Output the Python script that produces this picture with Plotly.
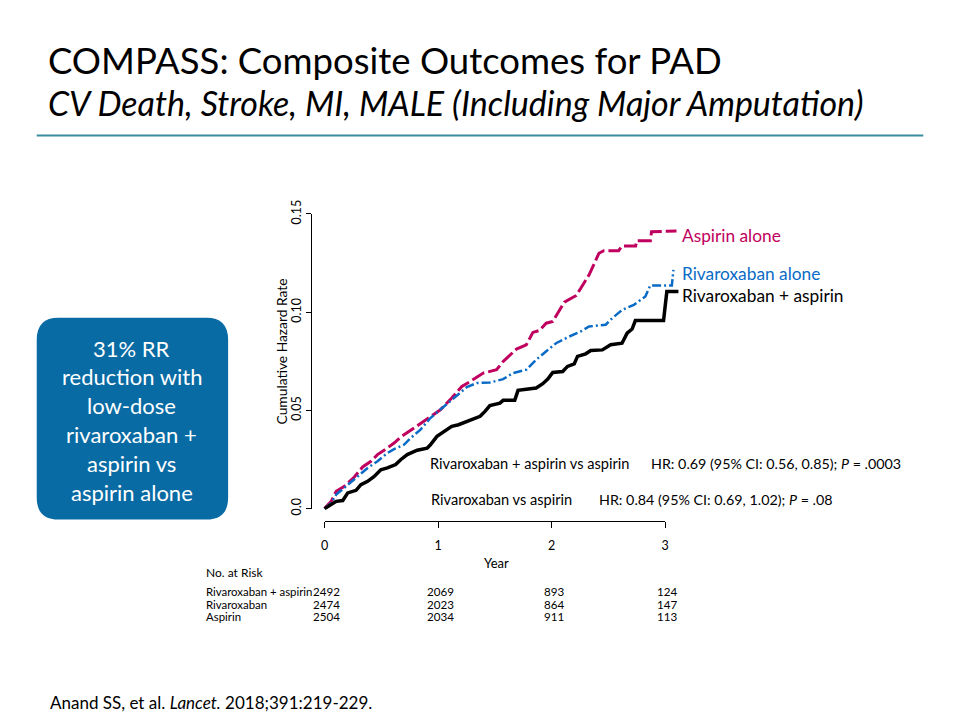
import plotly.graph_objects as go

W, H = 960, 720

# ---------------- data ----------------
asp_t = [0, 0.058, 0.102, 0.175, 0.262, 0.335, 0.408, 0.466, 0.539, 0.612, 0.67, 0.757, 0.845, 0.932,
         1.02, 1.12, 1.209, 1.282, 1.398, 1.515, 1.573, 1.69, 1.777, 1.835, 1.893, 1.952, 2.01,
         2.112, 2.217, 2.33, 2.417, 2.46, 2.59, 2.62, 2.74, 2.75, 2.87, 2.88, 3.10]
asp_r = [0, 0.0037, 0.0088, 0.0114, 0.0161, 0.0212, 0.0241, 0.0275, 0.0303, 0.0334, 0.0364, 0.0398, 0.0436, 0.0469,
         0.0503, 0.0563, 0.0622, 0.0647, 0.069, 0.0707, 0.0749, 0.0812, 0.0834, 0.0897, 0.0907, 0.0944, 0.0953,
         0.1051, 0.1085, 0.119, 0.130, 0.1313, 0.1313, 0.1337, 0.1337, 0.1364, 0.1364, 0.141, 0.1413]

riv_t = [0, 0.058, 0.102, 0.189, 0.291, 0.379, 0.466, 0.553, 0.612, 0.699, 0.757, 0.845, 0.932, 1.02,
         1.107, 1.18, 1.253, 1.34, 1.456, 1.573, 1.66, 1.777, 1.864, 1.95, 2.039, 2.155, 2.257, 2.33,
         2.476, 2.535, 2.622, 2.724, 2.826, 2.869, 3.059, 3.073]
riv_r = [0, 0.0029, 0.0071, 0.0114, 0.0164, 0.0207, 0.0241, 0.0283, 0.0303, 0.0325, 0.0359, 0.0402, 0.0461, 0.0503,
         0.0546, 0.058, 0.0619, 0.0639, 0.0642, 0.0659, 0.069, 0.0707, 0.0758, 0.08, 0.0842, 0.0876, 0.0902, 0.0927,
         0.0936, 0.097, 0.1012, 0.1037, 0.108, 0.1136, 0.1136, 0.1215]

combo_t = [0, 0.073, 0.102, 0.16, 0.204, 0.277, 0.32, 0.379, 0.437, 0.495, 0.553, 0.626, 0.67, 0.728, 0.816,
           0.903, 0.932, 0.99, 1.049, 1.12, 1.18, 1.253, 1.31, 1.37, 1.413, 1.456, 1.544, 1.573, 1.675, 1.704,
           1.777, 1.864, 1.922, 1.966, 2.01, 2.097, 2.14, 2.199, 2.228, 2.30, 2.345, 2.447, 2.52, 2.62, 2.665,
           2.709, 2.738, 2.986, 3.0, 3.015, 3.117]
combo_r = [0, 0.0029, 0.0037, 0.0041, 0.008, 0.0093, 0.0122, 0.0139, 0.0164, 0.0198, 0.0207, 0.0224, 0.0249, 0.0275, 0.0297,
           0.0308, 0.0325, 0.0368, 0.0393, 0.0419, 0.0427, 0.0444, 0.0453, 0.047, 0.0495, 0.0524, 0.0537, 0.0551, 0.0551, 0.0602,
           0.0608, 0.0614, 0.0636, 0.0659, 0.0693, 0.0698, 0.0724, 0.0737, 0.0775, 0.0788, 0.0805, 0.0808, 0.0834, 0.0842, 0.0893,
           0.0914, 0.0958, 0.0958, 0.1029, 0.1105, 0.1105]

x_ticks = [0, 1, 2, 3]
y_ticks = [0.0, 0.05, 0.10, 0.15]
y_tick_labels = ["0.0", "0.05", "0.10", "0.15"]

risk_labels = ["Rivaroxaban + aspirin", "Rivaroxaban", "Aspirin"]
risk_rows = [[2492, 2069, 893, 124],
             [2474, 2023, 864, 147],
             [2504, 2034, 911, 113]]

series_labels = ["Aspirin alone", "Rivaroxaban alone", "Rivaroxaban + aspirin"]
hr_lines = [("Rivaroxaban + aspirin vs aspirin", "HR: 0.69 (95% CI: 0.56, 0.85); <i>P</i> = .0003"),
            ("Rivaroxaban vs aspirin", "HR: 0.84 (95% CI: 0.69, 1.02); <i>P</i> = .08")]

title = "COMPASS: Composite Outcomes for PAD"
subtitle = "CV Death, Stroke, MI, MALE (Including Major Amputation)"
box_lines = ["31% RR", "reduction with", "low-dose", "rivaroxaban +", "aspirin vs", "aspirin alone"]
citation = "Anand SS, et al. <i>Lancet.</i> 2018;391:219-229."

# ---------------- colours / fonts ----------------
MAG = "#C0005E"
BLUE = "#0A6BC6"
BLACK = "#000000"
TEAL = "#3A8D9E"
BOXC = "#086BA4"
FONT = "Lato"

# screen-space correction (measured from the rendered output)
SA, SB = 13.8, 0.972


def px(x):
    return x / W


def py(y):
    return 1 - ((y - SA) / SB) / H


# pixel anchors of plot (screen)
X0PX, X3PX = 323.3, 666.7
Y0PX, Y15PX = 509.0, 214.0
pxyr = (X3PX - X0PX) / 3.0
pxrate = (Y0PX - Y15PX) / 0.15

xr = [-0.2, 3.25]
yr = [-0.004, 0.155]

fig = go.Figure()

fig.add_trace(go.Scatter(x=asp_t, y=asp_r, mode="lines", line=dict(color=MAG, width=3, dash="14px,4px"),
                         showlegend=False, hoverinfo="skip"))
fig.add_trace(go.Scatter(x=riv_t, y=riv_r, mode="lines", line=dict(color=BLUE, width=2.5, dash="9px,3px,2px,3px"),
                         showlegend=False, hoverinfo="skip"))
fig.add_trace(go.Scatter(x=combo_t, y=combo_r, mode="lines", line=dict(color=BLACK, width=3.5),
                         showlegend=False, hoverinfo="skip"))
# dummy trace for the visible (R-style) axes
fig.add_trace(go.Scatter(x=[0], y=[0], xaxis="x2", yaxis="y2", mode="markers",
                         marker=dict(opacity=0), showlegend=False, hoverinfo="skip"))

fig.update_layout(
    width=W, height=H, margin=dict(l=0, r=0, t=0, b=0),
    paper_bgcolor="white", plot_bgcolor="rgba(0,0,0,0)",
    font=dict(family=FONT, color="#000"),
    xaxis=dict(range=xr, visible=False,
               domain=[px(X0PX + xr[0] * pxyr), px(X0PX + xr[1] * pxyr)]),
    yaxis=dict(range=yr, visible=False,
               domain=[py(Y0PX - yr[0] * pxrate), py(Y0PX - yr[1] * pxrate)]),
    xaxis2=dict(range=[0, 3], domain=[px(X0PX), px(X3PX)], anchor="free", position=py(521.7),
                showline=True, linecolor="#000", linewidth=1.3, ticks="outside", ticklen=6,
                tickcolor="#000", tickwidth=1.3, tickvals=x_ticks, showgrid=False, zeroline=False,
                ticklabelstandoff=7,
                tickfont=dict(family=FONT, size=12.5, color="#000")),
    yaxis2=dict(range=[0, 0.15], domain=[py(Y0PX), py(Y15PX)], anchor="free", position=px(309.3),
                showline=True, linecolor="#000", linewidth=1.3, ticks="outside", ticklen=5,
                tickcolor="#000", tickwidth=1.3, tickvals=y_ticks, ticktext=y_tick_labels,
                tickangle=-90, showgrid=False, zeroline=False,
                tickfont=dict(family=FONT, size=12.5, color="#000")),
)

ann = []
ann.append(dict(x=px(42), y=py(59.5), xref="paper", yref="paper", xanchor="left", yanchor="middle",
                text=title, showarrow=False, font=dict(family=FONT, size=36.5, color="#000")))
ann.append(dict(x=px(42), y=py(102.5), xref="paper", yref="paper", xanchor="left", yanchor="middle",
                text="<i>" + subtitle + "</i>", showarrow=False, font=dict(family=FONT, size=34, color="#000")))

# series labels
lab_y = [236, 274, 296]
lab_c = [MAG, BLUE, BLACK]
for t, yy, c in zip(series_labels, lab_y, lab_c):
    ann.append(dict(x=px(682), y=py(yy), xref="paper", yref="paper", xanchor="left", yanchor="middle",
                    text=t, showarrow=False, font=dict(family=FONT, size=17.3, color=c)))

# HR lines
hr_pos = [(428, 650, 464), (429, 598, 500)]
for (a, b), (xa, xb, yy) in zip(hr_lines, hr_pos):
    ann.append(dict(x=px(xa), y=py(yy), xref="paper", yref="paper", xanchor="left", yanchor="middle",
                    text=a, showarrow=False, font=dict(family=FONT, size=14.6, color="#000")))
    ann.append(dict(x=px(xb), y=py(yy), xref="paper", yref="paper", xanchor="left", yanchor="middle",
                    text=b, showarrow=False, font=dict(family=FONT, size=14.3, color="#000")))

# axis titles
ann.append(dict(x=px(497), y=py(563), xref="paper", yref="paper", xanchor="center", yanchor="middle",
                text="Year", showarrow=False, font=dict(family=FONT, size=13, color="#000")))
ann.append(dict(x=px(280), y=py(352), xref="paper", yref="paper", xanchor="center", yanchor="middle",
                text="Cumulative Hazard Rate", textangle=-90, showarrow=False,
                font=dict(family=FONT, size=13.8, color="#000")))

# risk table
ann.append(dict(x=px(202), y=py(573), xref="paper", yref="paper", xanchor="left", yanchor="middle",
                text="No. at Risk", showarrow=False, font=dict(family=FONT, size=12, color="#000")))
row_y = [592, 605, 617]
for lab, row, yy in zip(risk_labels, risk_rows, row_y):
    ann.append(dict(x=px(202), y=py(yy), xref="paper", yref="paper", xanchor="left", yanchor="middle",
                    text=lab, showarrow=False, font=dict(family=FONT, size=11.4, color="#000")))
    for xv, n in zip(x_ticks, row):
        ann.append(dict(x=xv, y=py(yy), xref="x2", yref="paper", xanchor="center", yanchor="middle",
                        xshift=2, text=str(n), showarrow=False, font=dict(family=FONT, size=11.6, color="#000")))

# box text
box_y = [349, 377, 406, 435, 464, 493]
for t, yy in zip(box_lines, box_y):
    ann.append(dict(x=px(129), y=py(yy), xref="paper", yref="paper", xanchor="center", yanchor="middle",
                    text=t, showarrow=False, font=dict(family=FONT, size=22, color="white")))

ann.append(dict(x=px(44), y=py(703), xref="paper", yref="paper", xanchor="left", yanchor="middle",
                text=citation, showarrow=False, font=dict(family=FONT, size=17, color="#000")))

fig.update_layout(annotations=ann)

# decorations: teal rule and rounded box
shapes = [dict(type="line", xref="paper", yref="paper", x0=px(33), x1=px(927), y0=py(135.5), y1=py(135.5),
               line=dict(color=TEAL, width=2))]

bx0, bx1, by0, by1, rad = 33, 226, 318, 520, 22


def P(x, y):
    return f"{px(x):.5f},{py(y):.5f}"


path = ("M " + P(bx0 + rad, by0) + " L " + P(bx1 - rad, by0) + " Q " + P(bx1, by0) + " " + P(bx1, by0 + rad) +
        " L " + P(bx1, by1 - rad) + " Q " + P(bx1, by1) + " " + P(bx1 - rad, by1) +
        " L " + P(bx0 + rad, by1) + " Q " + P(bx0, by1) + " " + P(bx0, by1 - rad) +
        " L " + P(bx0, by0 + rad) + " Q " + P(bx0, by0) + " " + P(bx0 + rad, by0) + " Z")
shapes.append(dict(type="path", xref="paper", yref="paper", path=path, fillcolor=BOXC,
                   line=dict(width=0), layer="below"))
fig.update_layout(shapes=shapes)

fig.write_html("out.html")
